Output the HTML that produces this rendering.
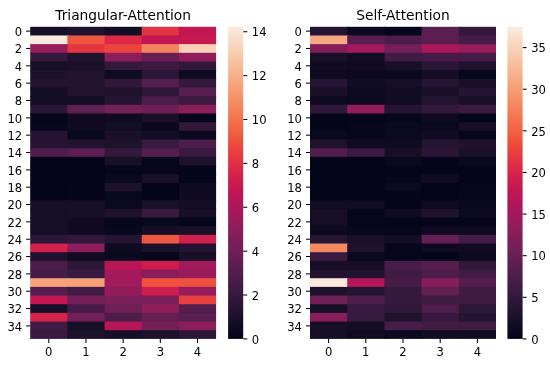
<!DOCTYPE html>
<html><head><meta charset="utf-8"><title>Attention heatmaps</title>
<style>html,body{margin:0;padding:0;background:#fff;}body{width:550px;height:366px;overflow:hidden;}svg{display:block;}</style>
</head><body>
<svg width="550" height="366" viewBox="0 0 550 366" font-family="'DejaVu Sans', 'Liberation Sans', sans-serif">
<defs><linearGradient id="rk" x1="0" y1="1" x2="0" y2="0">
<stop offset="0.0000" stop-color="#03051a"/>
<stop offset="0.0156" stop-color="#07071d"/>
<stop offset="0.0312" stop-color="#0d0a21"/>
<stop offset="0.0469" stop-color="#130d25"/>
<stop offset="0.0625" stop-color="#180f29"/>
<stop offset="0.0781" stop-color="#1e122d"/>
<stop offset="0.0938" stop-color="#241432"/>
<stop offset="0.1094" stop-color="#2a1636"/>
<stop offset="0.1250" stop-color="#30173a"/>
<stop offset="0.1406" stop-color="#35193e"/>
<stop offset="0.1562" stop-color="#3c1a42"/>
<stop offset="0.1719" stop-color="#421b45"/>
<stop offset="0.1875" stop-color="#481c48"/>
<stop offset="0.2031" stop-color="#4e1d4b"/>
<stop offset="0.2188" stop-color="#541e4e"/>
<stop offset="0.2344" stop-color="#5b1e51"/>
<stop offset="0.2500" stop-color="#611f53"/>
<stop offset="0.2656" stop-color="#681f55"/>
<stop offset="0.2812" stop-color="#6e1f57"/>
<stop offset="0.2969" stop-color="#751f58"/>
<stop offset="0.3125" stop-color="#7b1f59"/>
<stop offset="0.3281" stop-color="#821e5a"/>
<stop offset="0.3438" stop-color="#891e5b"/>
<stop offset="0.3594" stop-color="#901d5b"/>
<stop offset="0.3750" stop-color="#971c5b"/>
<stop offset="0.3906" stop-color="#9e1a5b"/>
<stop offset="0.4062" stop-color="#a4195b"/>
<stop offset="0.4219" stop-color="#ab185a"/>
<stop offset="0.4375" stop-color="#b21758"/>
<stop offset="0.4531" stop-color="#b91657"/>
<stop offset="0.4688" stop-color="#bf1654"/>
<stop offset="0.4844" stop-color="#c51852"/>
<stop offset="0.5000" stop-color="#cb1b4f"/>
<stop offset="0.5156" stop-color="#d11f4c"/>
<stop offset="0.5312" stop-color="#d62449"/>
<stop offset="0.5469" stop-color="#db2946"/>
<stop offset="0.5625" stop-color="#df2f44"/>
<stop offset="0.5781" stop-color="#e33641"/>
<stop offset="0.5938" stop-color="#e73d3f"/>
<stop offset="0.6094" stop-color="#ea443e"/>
<stop offset="0.6250" stop-color="#ec4c3e"/>
<stop offset="0.6406" stop-color="#ee543f"/>
<stop offset="0.6562" stop-color="#f05c42"/>
<stop offset="0.6719" stop-color="#f16445"/>
<stop offset="0.6875" stop-color="#f26b49"/>
<stop offset="0.7031" stop-color="#f3734e"/>
<stop offset="0.7188" stop-color="#f47a54"/>
<stop offset="0.7344" stop-color="#f4815a"/>
<stop offset="0.7500" stop-color="#f58860"/>
<stop offset="0.7656" stop-color="#f58f66"/>
<stop offset="0.7812" stop-color="#f5966c"/>
<stop offset="0.7969" stop-color="#f69c73"/>
<stop offset="0.8125" stop-color="#f6a37a"/>
<stop offset="0.8281" stop-color="#f6a981"/>
<stop offset="0.8438" stop-color="#f6b089"/>
<stop offset="0.8594" stop-color="#f6b691"/>
<stop offset="0.8750" stop-color="#f6bc99"/>
<stop offset="0.8906" stop-color="#f7c2a2"/>
<stop offset="0.9062" stop-color="#f7c9aa"/>
<stop offset="0.9219" stop-color="#f7cfb3"/>
<stop offset="0.9375" stop-color="#f8d4bc"/>
<stop offset="0.9531" stop-color="#f8dac5"/>
<stop offset="0.9688" stop-color="#f9e0cd"/>
<stop offset="0.9844" stop-color="#fae6d6"/>
<stop offset="1.0000" stop-color="#faebdd"/>
</linearGradient></defs>
<rect width="550" height="366" fill="#fff"/>
<g shape-rendering="auto">
<rect x="30.20" y="26.80" width="38.38" height="9.87" fill="#170f28"/>
<rect x="67.38" y="26.80" width="38.38" height="9.87" fill="#1e122d"/>
<rect x="104.56" y="26.80" width="38.38" height="9.87" fill="#130d25"/>
<rect x="141.74" y="26.80" width="38.38" height="9.87" fill="#e23442"/>
<rect x="178.92" y="26.80" width="37.18" height="9.87" fill="#c21753"/>
<rect x="30.20" y="35.47" width="38.38" height="9.87" fill="#faebdd"/>
<rect x="67.38" y="35.47" width="38.38" height="9.87" fill="#ef5640"/>
<rect x="104.56" y="35.47" width="38.38" height="9.87" fill="#db2946"/>
<rect x="141.74" y="35.47" width="38.38" height="9.87" fill="#c21753"/>
<rect x="178.92" y="35.47" width="37.18" height="9.87" fill="#c71951"/>
<rect x="30.20" y="44.14" width="38.38" height="9.87" fill="#981b5b"/>
<rect x="67.38" y="44.14" width="38.38" height="9.87" fill="#e33641"/>
<rect x="104.56" y="44.14" width="38.38" height="9.87" fill="#ea443e"/>
<rect x="141.74" y="44.14" width="38.38" height="9.87" fill="#f4845d"/>
<rect x="178.92" y="44.14" width="37.18" height="9.87" fill="#f8d1b8"/>
<rect x="30.20" y="52.81" width="38.38" height="9.87" fill="#34193d"/>
<rect x="67.38" y="52.81" width="38.38" height="9.87" fill="#1e122d"/>
<rect x="104.56" y="52.81" width="38.38" height="9.87" fill="#8b1d5b"/>
<rect x="141.74" y="52.81" width="38.38" height="9.87" fill="#691f55"/>
<rect x="178.92" y="52.81" width="37.18" height="9.87" fill="#901d5b"/>
<rect x="30.20" y="61.48" width="38.38" height="9.87" fill="#170f28"/>
<rect x="67.38" y="61.48" width="38.38" height="9.87" fill="#1a102a"/>
<rect x="104.56" y="61.48" width="38.38" height="9.87" fill="#34193d"/>
<rect x="141.74" y="61.48" width="38.38" height="9.87" fill="#3c1a42"/>
<rect x="178.92" y="61.48" width="37.18" height="9.87" fill="#31183b"/>
<rect x="30.20" y="70.15" width="38.38" height="9.87" fill="#1d112c"/>
<rect x="67.38" y="70.15" width="38.38" height="9.87" fill="#221331"/>
<rect x="104.56" y="70.15" width="38.38" height="9.87" fill="#100b23"/>
<rect x="141.74" y="70.15" width="38.38" height="9.87" fill="#2a1636"/>
<rect x="178.92" y="70.15" width="37.18" height="9.87" fill="#100b23"/>
<rect x="30.20" y="78.82" width="38.38" height="9.87" fill="#221331"/>
<rect x="67.38" y="78.82" width="38.38" height="9.87" fill="#221331"/>
<rect x="104.56" y="78.82" width="38.38" height="9.87" fill="#31183b"/>
<rect x="141.74" y="78.82" width="38.38" height="9.87" fill="#541e4e"/>
<rect x="178.92" y="78.82" width="37.18" height="9.87" fill="#34193d"/>
<rect x="30.20" y="87.49" width="38.38" height="9.87" fill="#130d25"/>
<rect x="67.38" y="87.49" width="38.38" height="9.87" fill="#221331"/>
<rect x="104.56" y="87.49" width="38.38" height="9.87" fill="#1e122d"/>
<rect x="141.74" y="87.49" width="38.38" height="9.87" fill="#2d1738"/>
<rect x="178.92" y="87.49" width="37.18" height="9.87" fill="#581e4f"/>
<rect x="30.20" y="96.16" width="38.38" height="9.87" fill="#130d25"/>
<rect x="67.38" y="96.16" width="38.38" height="9.87" fill="#130d25"/>
<rect x="104.56" y="96.16" width="38.38" height="9.87" fill="#251433"/>
<rect x="141.74" y="96.16" width="38.38" height="9.87" fill="#491d49"/>
<rect x="178.92" y="96.16" width="37.18" height="9.87" fill="#3c1a42"/>
<rect x="30.20" y="104.83" width="38.38" height="9.87" fill="#2a1636"/>
<rect x="67.38" y="104.83" width="38.38" height="9.87" fill="#5e1f52"/>
<rect x="104.56" y="104.83" width="38.38" height="9.87" fill="#751f58"/>
<rect x="141.74" y="104.83" width="38.38" height="9.87" fill="#6d1f56"/>
<rect x="178.92" y="104.83" width="37.18" height="9.87" fill="#891e5b"/>
<rect x="30.20" y="113.49" width="38.38" height="9.87" fill="#06071c"/>
<rect x="67.38" y="113.49" width="38.38" height="9.87" fill="#100b23"/>
<rect x="104.56" y="113.49" width="38.38" height="9.87" fill="#100b23"/>
<rect x="141.74" y="113.49" width="38.38" height="9.87" fill="#1a102a"/>
<rect x="178.92" y="113.49" width="37.18" height="9.87" fill="#05061b"/>
<rect x="30.20" y="122.16" width="38.38" height="9.87" fill="#08081e"/>
<rect x="67.38" y="122.16" width="38.38" height="9.87" fill="#100b23"/>
<rect x="104.56" y="122.16" width="38.38" height="9.87" fill="#130d25"/>
<rect x="141.74" y="122.16" width="38.38" height="9.87" fill="#0b0920"/>
<rect x="178.92" y="122.16" width="37.18" height="9.87" fill="#31183b"/>
<rect x="30.20" y="130.83" width="38.38" height="9.87" fill="#251433"/>
<rect x="67.38" y="130.83" width="38.38" height="9.87" fill="#08081e"/>
<rect x="104.56" y="130.83" width="38.38" height="9.87" fill="#1a102a"/>
<rect x="141.74" y="130.83" width="38.38" height="9.87" fill="#130d25"/>
<rect x="178.92" y="130.83" width="37.18" height="9.87" fill="#0b0920"/>
<rect x="30.20" y="139.50" width="38.38" height="9.87" fill="#251433"/>
<rect x="67.38" y="139.50" width="38.38" height="9.87" fill="#221331"/>
<rect x="104.56" y="139.50" width="38.38" height="9.87" fill="#1e122d"/>
<rect x="141.74" y="139.50" width="38.38" height="9.87" fill="#3a1a41"/>
<rect x="178.92" y="139.50" width="37.18" height="9.87" fill="#4c1d4b"/>
<rect x="30.20" y="148.17" width="38.38" height="9.87" fill="#4e1d4b"/>
<rect x="67.38" y="148.17" width="38.38" height="9.87" fill="#5c1e51"/>
<rect x="104.56" y="148.17" width="38.38" height="9.87" fill="#34193d"/>
<rect x="141.74" y="148.17" width="38.38" height="9.87" fill="#541e4e"/>
<rect x="178.92" y="148.17" width="37.18" height="9.87" fill="#3a1a41"/>
<rect x="30.20" y="156.84" width="38.38" height="9.87" fill="#04051a"/>
<rect x="67.38" y="156.84" width="38.38" height="9.87" fill="#04051a"/>
<rect x="104.56" y="156.84" width="38.38" height="9.87" fill="#180f29"/>
<rect x="141.74" y="156.84" width="38.38" height="9.87" fill="#06071c"/>
<rect x="178.92" y="156.84" width="37.18" height="9.87" fill="#1d112c"/>
<rect x="30.20" y="165.51" width="38.38" height="9.87" fill="#04051a"/>
<rect x="67.38" y="165.51" width="38.38" height="9.87" fill="#04051a"/>
<rect x="104.56" y="165.51" width="38.38" height="9.87" fill="#06071c"/>
<rect x="141.74" y="165.51" width="38.38" height="9.87" fill="#06071c"/>
<rect x="178.92" y="165.51" width="37.18" height="9.87" fill="#05061b"/>
<rect x="30.20" y="174.18" width="38.38" height="9.87" fill="#04051a"/>
<rect x="67.38" y="174.18" width="38.38" height="9.87" fill="#04051a"/>
<rect x="104.56" y="174.18" width="38.38" height="9.87" fill="#0a091f"/>
<rect x="141.74" y="174.18" width="38.38" height="9.87" fill="#1a102a"/>
<rect x="178.92" y="174.18" width="37.18" height="9.87" fill="#05061b"/>
<rect x="30.20" y="182.85" width="38.38" height="9.87" fill="#04051a"/>
<rect x="67.38" y="182.85" width="38.38" height="9.87" fill="#05061b"/>
<rect x="104.56" y="182.85" width="38.38" height="9.87" fill="#1d112c"/>
<rect x="141.74" y="182.85" width="38.38" height="9.87" fill="#04051a"/>
<rect x="178.92" y="182.85" width="37.18" height="9.87" fill="#0d0a21"/>
<rect x="30.20" y="191.52" width="38.38" height="9.87" fill="#04051a"/>
<rect x="67.38" y="191.52" width="38.38" height="9.87" fill="#05061b"/>
<rect x="104.56" y="191.52" width="38.38" height="9.87" fill="#08081e"/>
<rect x="141.74" y="191.52" width="38.38" height="9.87" fill="#05061b"/>
<rect x="178.92" y="191.52" width="37.18" height="9.87" fill="#100b23"/>
<rect x="30.20" y="200.19" width="38.38" height="9.87" fill="#170f28"/>
<rect x="67.38" y="200.19" width="38.38" height="9.87" fill="#170f28"/>
<rect x="104.56" y="200.19" width="38.38" height="9.87" fill="#0b0920"/>
<rect x="141.74" y="200.19" width="38.38" height="9.87" fill="#1a102a"/>
<rect x="178.92" y="200.19" width="37.18" height="9.87" fill="#130d25"/>
<rect x="30.20" y="208.86" width="38.38" height="9.87" fill="#160e27"/>
<rect x="67.38" y="208.86" width="38.38" height="9.87" fill="#170f28"/>
<rect x="104.56" y="208.86" width="38.38" height="9.87" fill="#20122e"/>
<rect x="141.74" y="208.86" width="38.38" height="9.87" fill="#381a40"/>
<rect x="178.92" y="208.86" width="37.18" height="9.87" fill="#170f28"/>
<rect x="30.20" y="217.53" width="38.38" height="9.87" fill="#160e27"/>
<rect x="67.38" y="217.53" width="38.38" height="9.87" fill="#110c24"/>
<rect x="104.56" y="217.53" width="38.38" height="9.87" fill="#06071c"/>
<rect x="141.74" y="217.53" width="38.38" height="9.87" fill="#08081e"/>
<rect x="178.92" y="217.53" width="37.18" height="9.87" fill="#06071c"/>
<rect x="30.20" y="226.20" width="38.38" height="9.87" fill="#160e27"/>
<rect x="67.38" y="226.20" width="38.38" height="9.87" fill="#100b23"/>
<rect x="104.56" y="226.20" width="38.38" height="9.87" fill="#08081e"/>
<rect x="141.74" y="226.20" width="38.38" height="9.87" fill="#170f28"/>
<rect x="178.92" y="226.20" width="37.18" height="9.87" fill="#180f29"/>
<rect x="30.20" y="234.87" width="38.38" height="9.87" fill="#2b1637"/>
<rect x="67.38" y="234.87" width="38.38" height="9.87" fill="#31183b"/>
<rect x="104.56" y="234.87" width="38.38" height="9.87" fill="#251433"/>
<rect x="141.74" y="234.87" width="38.38" height="9.87" fill="#ef5840"/>
<rect x="178.92" y="234.87" width="37.18" height="9.87" fill="#d2204c"/>
<rect x="30.20" y="243.54" width="38.38" height="9.87" fill="#d2204c"/>
<rect x="67.38" y="243.54" width="38.38" height="9.87" fill="#8c1d5b"/>
<rect x="104.56" y="243.54" width="38.38" height="9.87" fill="#0d0a21"/>
<rect x="141.74" y="243.54" width="38.38" height="9.87" fill="#1a102a"/>
<rect x="178.92" y="243.54" width="37.18" height="9.87" fill="#221331"/>
<rect x="30.20" y="252.21" width="38.38" height="9.87" fill="#20122e"/>
<rect x="67.38" y="252.21" width="38.38" height="9.87" fill="#110c24"/>
<rect x="104.56" y="252.21" width="38.38" height="9.87" fill="#0b0920"/>
<rect x="141.74" y="252.21" width="38.38" height="9.87" fill="#06071c"/>
<rect x="178.92" y="252.21" width="37.18" height="9.87" fill="#180f29"/>
<rect x="30.20" y="260.88" width="38.38" height="9.87" fill="#4c1d4b"/>
<rect x="67.38" y="260.88" width="38.38" height="9.87" fill="#2d1738"/>
<rect x="104.56" y="260.88" width="38.38" height="9.87" fill="#ba1656"/>
<rect x="141.74" y="260.88" width="38.38" height="9.87" fill="#cd1c4e"/>
<rect x="178.92" y="260.88" width="37.18" height="9.87" fill="#a11a5b"/>
<rect x="30.20" y="269.54" width="38.38" height="9.87" fill="#451c47"/>
<rect x="67.38" y="269.54" width="38.38" height="9.87" fill="#381a40"/>
<rect x="104.56" y="269.54" width="38.38" height="9.87" fill="#a4195b"/>
<rect x="141.74" y="269.54" width="38.38" height="9.87" fill="#8b1d5b"/>
<rect x="178.92" y="269.54" width="37.18" height="9.87" fill="#9a1b5b"/>
<rect x="30.20" y="278.21" width="38.38" height="9.87" fill="#f6a37a"/>
<rect x="67.38" y="278.21" width="38.38" height="9.87" fill="#f6a178"/>
<rect x="104.56" y="278.21" width="38.38" height="9.87" fill="#a11a5b"/>
<rect x="141.74" y="278.21" width="38.38" height="9.87" fill="#ee523f"/>
<rect x="178.92" y="278.21" width="37.18" height="9.87" fill="#ee523f"/>
<rect x="30.20" y="286.88" width="38.38" height="9.87" fill="#531e4d"/>
<rect x="67.38" y="286.88" width="38.38" height="9.87" fill="#421b45"/>
<rect x="104.56" y="286.88" width="38.38" height="9.87" fill="#921c5b"/>
<rect x="141.74" y="286.88" width="38.38" height="9.87" fill="#ce1d4e"/>
<rect x="178.92" y="286.88" width="37.18" height="9.87" fill="#971c5b"/>
<rect x="30.20" y="295.55" width="38.38" height="9.87" fill="#c21753"/>
<rect x="67.38" y="295.55" width="38.38" height="9.87" fill="#751f58"/>
<rect x="104.56" y="295.55" width="38.38" height="9.87" fill="#7a1f59"/>
<rect x="141.74" y="295.55" width="38.38" height="9.87" fill="#7a1f59"/>
<rect x="178.92" y="295.55" width="37.18" height="9.87" fill="#e83f3f"/>
<rect x="30.20" y="304.22" width="38.38" height="9.87" fill="#180f29"/>
<rect x="67.38" y="304.22" width="38.38" height="9.87" fill="#481c48"/>
<rect x="104.56" y="304.22" width="38.38" height="9.87" fill="#6d1f56"/>
<rect x="141.74" y="304.22" width="38.38" height="9.87" fill="#901d5b"/>
<rect x="178.92" y="304.22" width="37.18" height="9.87" fill="#531e4d"/>
<rect x="30.20" y="312.89" width="38.38" height="9.87" fill="#d62449"/>
<rect x="67.38" y="312.89" width="38.38" height="9.87" fill="#731f58"/>
<rect x="104.56" y="312.89" width="38.38" height="9.87" fill="#4c1d4b"/>
<rect x="141.74" y="312.89" width="38.38" height="9.87" fill="#661f54"/>
<rect x="178.92" y="312.89" width="37.18" height="9.87" fill="#581e4f"/>
<rect x="30.20" y="321.56" width="38.38" height="9.87" fill="#3f1b43"/>
<rect x="67.38" y="321.56" width="38.38" height="9.87" fill="#180f29"/>
<rect x="104.56" y="321.56" width="38.38" height="9.87" fill="#b71657"/>
<rect x="141.74" y="321.56" width="38.38" height="9.87" fill="#731f58"/>
<rect x="178.92" y="321.56" width="37.18" height="9.87" fill="#8c1d5b"/>
<rect x="30.20" y="330.23" width="38.38" height="8.67" fill="#381a40"/>
<rect x="67.38" y="330.23" width="38.38" height="8.67" fill="#1d112c"/>
<rect x="104.56" y="330.23" width="38.38" height="8.67" fill="#170f28"/>
<rect x="141.74" y="330.23" width="38.38" height="8.67" fill="#1d112c"/>
<rect x="178.92" y="330.23" width="37.18" height="8.67" fill="#2b1637"/>
</g>
<g stroke="#000" stroke-width="1.05">
<line x1="26.15" y1="31.13" x2="30.20" y2="31.13"/>
<line x1="26.15" y1="48.47" x2="30.20" y2="48.47"/>
<line x1="26.15" y1="65.81" x2="30.20" y2="65.81"/>
<line x1="26.15" y1="83.15" x2="30.20" y2="83.15"/>
<line x1="26.15" y1="100.49" x2="30.20" y2="100.49"/>
<line x1="26.15" y1="117.83" x2="30.20" y2="117.83"/>
<line x1="26.15" y1="135.17" x2="30.20" y2="135.17"/>
<line x1="26.15" y1="152.51" x2="30.20" y2="152.51"/>
<line x1="26.15" y1="169.85" x2="30.20" y2="169.85"/>
<line x1="26.15" y1="187.18" x2="30.20" y2="187.18"/>
<line x1="26.15" y1="204.52" x2="30.20" y2="204.52"/>
<line x1="26.15" y1="221.86" x2="30.20" y2="221.86"/>
<line x1="26.15" y1="239.20" x2="30.20" y2="239.20"/>
<line x1="26.15" y1="256.54" x2="30.20" y2="256.54"/>
<line x1="26.15" y1="273.88" x2="30.20" y2="273.88"/>
<line x1="26.15" y1="291.22" x2="30.20" y2="291.22"/>
<line x1="26.15" y1="308.56" x2="30.20" y2="308.56"/>
<line x1="26.15" y1="325.90" x2="30.20" y2="325.90"/>
<line x1="48.79" y1="338.90" x2="48.79" y2="342.95"/>
<line x1="85.97" y1="338.90" x2="85.97" y2="342.95"/>
<line x1="123.15" y1="338.90" x2="123.15" y2="342.95"/>
<line x1="160.33" y1="338.90" x2="160.33" y2="342.95"/>
<line x1="197.51" y1="338.90" x2="197.51" y2="342.95"/>
<line x1="243.20" y1="338.90" x2="247.25" y2="338.90"/>
<line x1="243.20" y1="295.02" x2="247.25" y2="295.02"/>
<line x1="243.20" y1="251.14" x2="247.25" y2="251.14"/>
<line x1="243.20" y1="207.26" x2="247.25" y2="207.26"/>
<line x1="243.20" y1="163.38" x2="247.25" y2="163.38"/>
<line x1="243.20" y1="119.50" x2="247.25" y2="119.50"/>
<line x1="243.20" y1="75.62" x2="247.25" y2="75.62"/>
<line x1="243.20" y1="31.74" x2="247.25" y2="31.74"/>
</g>
<g font-size="11.57" fill="#000">
<text x="22.10" y="35.93" text-anchor="end">0</text>
<text x="22.10" y="53.27" text-anchor="end">2</text>
<text x="22.10" y="70.61" text-anchor="end">4</text>
<text x="22.10" y="87.95" text-anchor="end">6</text>
<text x="22.10" y="105.29" text-anchor="end">8</text>
<text x="22.10" y="122.63" text-anchor="end">10</text>
<text x="22.10" y="139.97" text-anchor="end">12</text>
<text x="22.10" y="157.31" text-anchor="end">14</text>
<text x="22.10" y="174.65" text-anchor="end">16</text>
<text x="22.10" y="191.98" text-anchor="end">18</text>
<text x="22.10" y="209.32" text-anchor="end">20</text>
<text x="22.10" y="226.66" text-anchor="end">22</text>
<text x="22.10" y="244.00" text-anchor="end">24</text>
<text x="22.10" y="261.34" text-anchor="end">26</text>
<text x="22.10" y="278.68" text-anchor="end">28</text>
<text x="22.10" y="296.02" text-anchor="end">30</text>
<text x="22.10" y="313.36" text-anchor="end">32</text>
<text x="22.10" y="330.70" text-anchor="end">34</text>
<text x="48.79" y="356.20" text-anchor="middle">0</text>
<text x="85.97" y="356.20" text-anchor="middle">1</text>
<text x="123.15" y="356.20" text-anchor="middle">2</text>
<text x="160.33" y="356.20" text-anchor="middle">3</text>
<text x="197.51" y="356.20" text-anchor="middle">4</text>
<text x="251.80" y="343.60">0</text>
<text x="251.80" y="299.72">2</text>
<text x="251.80" y="255.84">4</text>
<text x="251.80" y="211.96">6</text>
<text x="251.80" y="168.08">8</text>
<text x="251.80" y="124.20">10</text>
<text x="251.80" y="80.32">12</text>
<text x="251.80" y="36.44">14</text>
</g>
<text x="123.15" y="20.0" font-size="13.78" text-anchor="middle" fill="#000">Triangular-Attention</text>
<rect x="228.10" y="26.80" width="15.10" height="312.10" fill="url(#rk)"/>
<g shape-rendering="auto">
<rect x="310.00" y="26.80" width="38.40" height="9.87" fill="#251433"/>
<rect x="347.20" y="26.80" width="38.40" height="9.87" fill="#0a091f"/>
<rect x="384.40" y="26.80" width="38.40" height="9.87" fill="#06071c"/>
<rect x="421.60" y="26.80" width="38.40" height="9.87" fill="#5b1e51"/>
<rect x="458.80" y="26.80" width="37.20" height="9.87" fill="#34193d"/>
<rect x="310.00" y="35.47" width="38.40" height="9.87" fill="#f6a880"/>
<rect x="347.20" y="35.47" width="38.40" height="9.87" fill="#5b1e51"/>
<rect x="384.40" y="35.47" width="38.40" height="9.87" fill="#4c1d4b"/>
<rect x="421.60" y="35.47" width="38.40" height="9.87" fill="#5c1e51"/>
<rect x="458.80" y="35.47" width="37.20" height="9.87" fill="#451c47"/>
<rect x="310.00" y="44.14" width="38.40" height="9.87" fill="#841e5a"/>
<rect x="347.20" y="44.14" width="38.40" height="9.87" fill="#a3195b"/>
<rect x="384.40" y="44.14" width="38.40" height="9.87" fill="#731f58"/>
<rect x="421.60" y="44.14" width="38.40" height="9.87" fill="#aa185a"/>
<rect x="458.80" y="44.14" width="37.20" height="9.87" fill="#971c5b"/>
<rect x="310.00" y="52.81" width="38.40" height="9.87" fill="#180f29"/>
<rect x="347.20" y="52.81" width="38.40" height="9.87" fill="#110c24"/>
<rect x="384.40" y="52.81" width="38.40" height="9.87" fill="#401b44"/>
<rect x="421.60" y="52.81" width="38.40" height="9.87" fill="#451c47"/>
<rect x="458.80" y="52.81" width="37.20" height="9.87" fill="#451c47"/>
<rect x="310.00" y="61.48" width="38.40" height="9.87" fill="#110c24"/>
<rect x="347.20" y="61.48" width="38.40" height="9.87" fill="#100b23"/>
<rect x="384.40" y="61.48" width="38.40" height="9.87" fill="#180f29"/>
<rect x="421.60" y="61.48" width="38.40" height="9.87" fill="#2a1636"/>
<rect x="458.80" y="61.48" width="37.20" height="9.87" fill="#20122e"/>
<rect x="310.00" y="70.15" width="38.40" height="9.87" fill="#0d0a21"/>
<rect x="347.20" y="70.15" width="38.40" height="9.87" fill="#0b0920"/>
<rect x="384.40" y="70.15" width="38.40" height="9.87" fill="#0a091f"/>
<rect x="421.60" y="70.15" width="38.40" height="9.87" fill="#160e27"/>
<rect x="458.80" y="70.15" width="37.20" height="9.87" fill="#06071c"/>
<rect x="310.00" y="78.82" width="38.40" height="9.87" fill="#251433"/>
<rect x="347.20" y="78.82" width="38.40" height="9.87" fill="#110c24"/>
<rect x="384.40" y="78.82" width="38.40" height="9.87" fill="#160e27"/>
<rect x="421.60" y="78.82" width="38.40" height="9.87" fill="#251433"/>
<rect x="458.80" y="78.82" width="37.20" height="9.87" fill="#1a102a"/>
<rect x="310.00" y="87.49" width="38.40" height="9.87" fill="#1a102a"/>
<rect x="347.20" y="87.49" width="38.40" height="9.87" fill="#0d0a21"/>
<rect x="384.40" y="87.49" width="38.40" height="9.87" fill="#110c24"/>
<rect x="421.60" y="87.49" width="38.40" height="9.87" fill="#1a102a"/>
<rect x="458.80" y="87.49" width="37.20" height="9.87" fill="#251433"/>
<rect x="310.00" y="96.16" width="38.40" height="9.87" fill="#0d0a21"/>
<rect x="347.20" y="96.16" width="38.40" height="9.87" fill="#0a091f"/>
<rect x="384.40" y="96.16" width="38.40" height="9.87" fill="#110c24"/>
<rect x="421.60" y="96.16" width="38.40" height="9.87" fill="#241432"/>
<rect x="458.80" y="96.16" width="37.20" height="9.87" fill="#1a102a"/>
<rect x="310.00" y="104.83" width="38.40" height="9.87" fill="#30173a"/>
<rect x="347.20" y="104.83" width="38.40" height="9.87" fill="#931c5b"/>
<rect x="384.40" y="104.83" width="38.40" height="9.87" fill="#251433"/>
<rect x="421.60" y="104.83" width="38.40" height="9.87" fill="#33183c"/>
<rect x="458.80" y="104.83" width="37.20" height="9.87" fill="#3a1a41"/>
<rect x="310.00" y="113.49" width="38.40" height="9.87" fill="#05061b"/>
<rect x="347.20" y="113.49" width="38.40" height="9.87" fill="#05061b"/>
<rect x="384.40" y="113.49" width="38.40" height="9.87" fill="#06071c"/>
<rect x="421.60" y="113.49" width="38.40" height="9.87" fill="#0d0a21"/>
<rect x="458.80" y="113.49" width="37.20" height="9.87" fill="#05061b"/>
<rect x="310.00" y="122.16" width="38.40" height="9.87" fill="#05061b"/>
<rect x="347.20" y="122.16" width="38.40" height="9.87" fill="#06071c"/>
<rect x="384.40" y="122.16" width="38.40" height="9.87" fill="#0a091f"/>
<rect x="421.60" y="122.16" width="38.40" height="9.87" fill="#0a091f"/>
<rect x="458.80" y="122.16" width="37.20" height="9.87" fill="#180f29"/>
<rect x="310.00" y="130.83" width="38.40" height="9.87" fill="#08081e"/>
<rect x="347.20" y="130.83" width="38.40" height="9.87" fill="#06071c"/>
<rect x="384.40" y="130.83" width="38.40" height="9.87" fill="#0a091f"/>
<rect x="421.60" y="130.83" width="38.40" height="9.87" fill="#110c24"/>
<rect x="458.80" y="130.83" width="37.20" height="9.87" fill="#06071c"/>
<rect x="310.00" y="139.50" width="38.40" height="9.87" fill="#20122e"/>
<rect x="347.20" y="139.50" width="38.40" height="9.87" fill="#100b23"/>
<rect x="384.40" y="139.50" width="38.40" height="9.87" fill="#100b23"/>
<rect x="421.60" y="139.50" width="38.40" height="9.87" fill="#251433"/>
<rect x="458.80" y="139.50" width="37.20" height="9.87" fill="#20122e"/>
<rect x="310.00" y="148.17" width="38.40" height="9.87" fill="#501d4c"/>
<rect x="347.20" y="148.17" width="38.40" height="9.87" fill="#3c1a42"/>
<rect x="384.40" y="148.17" width="38.40" height="9.87" fill="#170f28"/>
<rect x="421.60" y="148.17" width="38.40" height="9.87" fill="#2b1637"/>
<rect x="458.80" y="148.17" width="37.20" height="9.87" fill="#1a102a"/>
<rect x="310.00" y="156.84" width="38.40" height="9.87" fill="#04051a"/>
<rect x="347.20" y="156.84" width="38.40" height="9.87" fill="#04051a"/>
<rect x="384.40" y="156.84" width="38.40" height="9.87" fill="#0a091f"/>
<rect x="421.60" y="156.84" width="38.40" height="9.87" fill="#05061b"/>
<rect x="458.80" y="156.84" width="37.20" height="9.87" fill="#0b0920"/>
<rect x="310.00" y="165.51" width="38.40" height="9.87" fill="#04051a"/>
<rect x="347.20" y="165.51" width="38.40" height="9.87" fill="#04051a"/>
<rect x="384.40" y="165.51" width="38.40" height="9.87" fill="#05061b"/>
<rect x="421.60" y="165.51" width="38.40" height="9.87" fill="#05061b"/>
<rect x="458.80" y="165.51" width="37.20" height="9.87" fill="#05061b"/>
<rect x="310.00" y="174.18" width="38.40" height="9.87" fill="#04051a"/>
<rect x="347.20" y="174.18" width="38.40" height="9.87" fill="#04051a"/>
<rect x="384.40" y="174.18" width="38.40" height="9.87" fill="#06071c"/>
<rect x="421.60" y="174.18" width="38.40" height="9.87" fill="#100b23"/>
<rect x="458.80" y="174.18" width="37.20" height="9.87" fill="#04051a"/>
<rect x="310.00" y="182.85" width="38.40" height="9.87" fill="#04051a"/>
<rect x="347.20" y="182.85" width="38.40" height="9.87" fill="#04051a"/>
<rect x="384.40" y="182.85" width="38.40" height="9.87" fill="#0b0920"/>
<rect x="421.60" y="182.85" width="38.40" height="9.87" fill="#04051a"/>
<rect x="458.80" y="182.85" width="37.20" height="9.87" fill="#06071c"/>
<rect x="310.00" y="191.52" width="38.40" height="9.87" fill="#04051a"/>
<rect x="347.20" y="191.52" width="38.40" height="9.87" fill="#04051a"/>
<rect x="384.40" y="191.52" width="38.40" height="9.87" fill="#05061b"/>
<rect x="421.60" y="191.52" width="38.40" height="9.87" fill="#04051a"/>
<rect x="458.80" y="191.52" width="37.20" height="9.87" fill="#06071c"/>
<rect x="310.00" y="200.19" width="38.40" height="9.87" fill="#110c24"/>
<rect x="347.20" y="200.19" width="38.40" height="9.87" fill="#110c24"/>
<rect x="384.40" y="200.19" width="38.40" height="9.87" fill="#05061b"/>
<rect x="421.60" y="200.19" width="38.40" height="9.87" fill="#0d0a21"/>
<rect x="458.80" y="200.19" width="37.20" height="9.87" fill="#08081e"/>
<rect x="310.00" y="208.86" width="38.40" height="9.87" fill="#160e27"/>
<rect x="347.20" y="208.86" width="38.40" height="9.87" fill="#06071c"/>
<rect x="384.40" y="208.86" width="38.40" height="9.87" fill="#110c24"/>
<rect x="421.60" y="208.86" width="38.40" height="9.87" fill="#1e122d"/>
<rect x="458.80" y="208.86" width="37.20" height="9.87" fill="#0a091f"/>
<rect x="310.00" y="217.53" width="38.40" height="9.87" fill="#160e27"/>
<rect x="347.20" y="217.53" width="38.40" height="9.87" fill="#06071c"/>
<rect x="384.40" y="217.53" width="38.40" height="9.87" fill="#05061b"/>
<rect x="421.60" y="217.53" width="38.40" height="9.87" fill="#05061b"/>
<rect x="458.80" y="217.53" width="37.20" height="9.87" fill="#05061b"/>
<rect x="310.00" y="226.20" width="38.40" height="9.87" fill="#0d0a21"/>
<rect x="347.20" y="226.20" width="38.40" height="9.87" fill="#08081e"/>
<rect x="384.40" y="226.20" width="38.40" height="9.87" fill="#06071c"/>
<rect x="421.60" y="226.20" width="38.40" height="9.87" fill="#100b23"/>
<rect x="458.80" y="226.20" width="37.20" height="9.87" fill="#0d0a21"/>
<rect x="310.00" y="234.87" width="38.40" height="9.87" fill="#271534"/>
<rect x="347.20" y="234.87" width="38.40" height="9.87" fill="#1a102a"/>
<rect x="384.40" y="234.87" width="38.40" height="9.87" fill="#130d25"/>
<rect x="421.60" y="234.87" width="38.40" height="9.87" fill="#641f54"/>
<rect x="458.80" y="234.87" width="37.20" height="9.87" fill="#451c47"/>
<rect x="310.00" y="243.54" width="38.40" height="9.87" fill="#f58a61"/>
<rect x="347.20" y="243.54" width="38.40" height="9.87" fill="#20122e"/>
<rect x="384.40" y="243.54" width="38.40" height="9.87" fill="#06071c"/>
<rect x="421.60" y="243.54" width="38.40" height="9.87" fill="#0d0a21"/>
<rect x="458.80" y="243.54" width="37.20" height="9.87" fill="#100b23"/>
<rect x="310.00" y="252.21" width="38.40" height="9.87" fill="#3a1a41"/>
<rect x="347.20" y="252.21" width="38.40" height="9.87" fill="#0a091f"/>
<rect x="384.40" y="252.21" width="38.40" height="9.87" fill="#06071c"/>
<rect x="421.60" y="252.21" width="38.40" height="9.87" fill="#05061b"/>
<rect x="458.80" y="252.21" width="37.20" height="9.87" fill="#0d0a21"/>
<rect x="310.00" y="260.88" width="38.40" height="9.87" fill="#160e27"/>
<rect x="347.20" y="260.88" width="38.40" height="9.87" fill="#160e27"/>
<rect x="384.40" y="260.88" width="38.40" height="9.87" fill="#481c48"/>
<rect x="421.60" y="260.88" width="38.40" height="9.87" fill="#561e4f"/>
<rect x="458.80" y="260.88" width="37.20" height="9.87" fill="#31183b"/>
<rect x="310.00" y="269.54" width="38.40" height="9.87" fill="#221331"/>
<rect x="347.20" y="269.54" width="38.40" height="9.87" fill="#221331"/>
<rect x="384.40" y="269.54" width="38.40" height="9.87" fill="#401b44"/>
<rect x="421.60" y="269.54" width="38.40" height="9.87" fill="#4e1d4b"/>
<rect x="458.80" y="269.54" width="37.20" height="9.87" fill="#421b45"/>
<rect x="310.00" y="278.21" width="38.40" height="9.87" fill="#faebdd"/>
<rect x="347.20" y="278.21" width="38.40" height="9.87" fill="#b41658"/>
<rect x="384.40" y="278.21" width="38.40" height="9.87" fill="#451c47"/>
<rect x="421.60" y="278.21" width="38.40" height="9.87" fill="#871e5b"/>
<rect x="458.80" y="278.21" width="37.20" height="9.87" fill="#561e4f"/>
<rect x="310.00" y="286.88" width="38.40" height="9.87" fill="#1e122d"/>
<rect x="347.20" y="286.88" width="38.40" height="9.87" fill="#251433"/>
<rect x="384.40" y="286.88" width="38.40" height="9.87" fill="#37193f"/>
<rect x="421.60" y="286.88" width="38.40" height="9.87" fill="#611f53"/>
<rect x="458.80" y="286.88" width="37.20" height="9.87" fill="#3f1b43"/>
<rect x="310.00" y="295.55" width="38.40" height="9.87" fill="#6d1f56"/>
<rect x="347.20" y="295.55" width="38.40" height="9.87" fill="#4e1d4b"/>
<rect x="384.40" y="295.55" width="38.40" height="9.87" fill="#37193f"/>
<rect x="421.60" y="295.55" width="38.40" height="9.87" fill="#401b44"/>
<rect x="458.80" y="295.55" width="37.20" height="9.87" fill="#3f1b43"/>
<rect x="310.00" y="304.22" width="38.40" height="9.87" fill="#170f28"/>
<rect x="347.20" y="304.22" width="38.40" height="9.87" fill="#381a40"/>
<rect x="384.40" y="304.22" width="38.40" height="9.87" fill="#31183b"/>
<rect x="421.60" y="304.22" width="38.40" height="9.87" fill="#4e1d4b"/>
<rect x="458.80" y="304.22" width="37.20" height="9.87" fill="#2d1738"/>
<rect x="310.00" y="312.89" width="38.40" height="9.87" fill="#871e5b"/>
<rect x="347.20" y="312.89" width="38.40" height="9.87" fill="#381a40"/>
<rect x="384.40" y="312.89" width="38.40" height="9.87" fill="#1e122d"/>
<rect x="421.60" y="312.89" width="38.40" height="9.87" fill="#37193f"/>
<rect x="458.80" y="312.89" width="37.20" height="9.87" fill="#251433"/>
<rect x="310.00" y="321.56" width="38.40" height="9.87" fill="#170f28"/>
<rect x="347.20" y="321.56" width="38.40" height="9.87" fill="#130d25"/>
<rect x="384.40" y="321.56" width="38.40" height="9.87" fill="#481c48"/>
<rect x="421.60" y="321.56" width="38.40" height="9.87" fill="#421b45"/>
<rect x="458.80" y="321.56" width="37.20" height="9.87" fill="#401b44"/>
<rect x="310.00" y="330.23" width="38.40" height="8.67" fill="#170f28"/>
<rect x="347.20" y="330.23" width="38.40" height="8.67" fill="#100b23"/>
<rect x="384.40" y="330.23" width="38.40" height="8.67" fill="#0a091f"/>
<rect x="421.60" y="330.23" width="38.40" height="8.67" fill="#110c24"/>
<rect x="458.80" y="330.23" width="37.20" height="8.67" fill="#110c24"/>
</g>
<g stroke="#000" stroke-width="1.05">
<line x1="305.95" y1="31.13" x2="310.00" y2="31.13"/>
<line x1="305.95" y1="48.47" x2="310.00" y2="48.47"/>
<line x1="305.95" y1="65.81" x2="310.00" y2="65.81"/>
<line x1="305.95" y1="83.15" x2="310.00" y2="83.15"/>
<line x1="305.95" y1="100.49" x2="310.00" y2="100.49"/>
<line x1="305.95" y1="117.83" x2="310.00" y2="117.83"/>
<line x1="305.95" y1="135.17" x2="310.00" y2="135.17"/>
<line x1="305.95" y1="152.51" x2="310.00" y2="152.51"/>
<line x1="305.95" y1="169.85" x2="310.00" y2="169.85"/>
<line x1="305.95" y1="187.18" x2="310.00" y2="187.18"/>
<line x1="305.95" y1="204.52" x2="310.00" y2="204.52"/>
<line x1="305.95" y1="221.86" x2="310.00" y2="221.86"/>
<line x1="305.95" y1="239.20" x2="310.00" y2="239.20"/>
<line x1="305.95" y1="256.54" x2="310.00" y2="256.54"/>
<line x1="305.95" y1="273.88" x2="310.00" y2="273.88"/>
<line x1="305.95" y1="291.22" x2="310.00" y2="291.22"/>
<line x1="305.95" y1="308.56" x2="310.00" y2="308.56"/>
<line x1="305.95" y1="325.90" x2="310.00" y2="325.90"/>
<line x1="328.60" y1="338.90" x2="328.60" y2="342.95"/>
<line x1="365.80" y1="338.90" x2="365.80" y2="342.95"/>
<line x1="403.00" y1="338.90" x2="403.00" y2="342.95"/>
<line x1="440.20" y1="338.90" x2="440.20" y2="342.95"/>
<line x1="477.40" y1="338.90" x2="477.40" y2="342.95"/>
<line x1="522.60" y1="338.90" x2="526.65" y2="338.90"/>
<line x1="522.60" y1="297.29" x2="526.65" y2="297.29"/>
<line x1="522.60" y1="255.67" x2="526.65" y2="255.67"/>
<line x1="522.60" y1="214.06" x2="526.65" y2="214.06"/>
<line x1="522.60" y1="172.45" x2="526.65" y2="172.45"/>
<line x1="522.60" y1="130.83" x2="526.65" y2="130.83"/>
<line x1="522.60" y1="89.22" x2="526.65" y2="89.22"/>
<line x1="522.60" y1="47.61" x2="526.65" y2="47.61"/>
</g>
<g font-size="11.57" fill="#000">
<text x="301.90" y="35.93" text-anchor="end">0</text>
<text x="301.90" y="53.27" text-anchor="end">2</text>
<text x="301.90" y="70.61" text-anchor="end">4</text>
<text x="301.90" y="87.95" text-anchor="end">6</text>
<text x="301.90" y="105.29" text-anchor="end">8</text>
<text x="301.90" y="122.63" text-anchor="end">10</text>
<text x="301.90" y="139.97" text-anchor="end">12</text>
<text x="301.90" y="157.31" text-anchor="end">14</text>
<text x="301.90" y="174.65" text-anchor="end">16</text>
<text x="301.90" y="191.98" text-anchor="end">18</text>
<text x="301.90" y="209.32" text-anchor="end">20</text>
<text x="301.90" y="226.66" text-anchor="end">22</text>
<text x="301.90" y="244.00" text-anchor="end">24</text>
<text x="301.90" y="261.34" text-anchor="end">26</text>
<text x="301.90" y="278.68" text-anchor="end">28</text>
<text x="301.90" y="296.02" text-anchor="end">30</text>
<text x="301.90" y="313.36" text-anchor="end">32</text>
<text x="301.90" y="330.70" text-anchor="end">34</text>
<text x="328.60" y="356.20" text-anchor="middle">0</text>
<text x="365.80" y="356.20" text-anchor="middle">1</text>
<text x="403.00" y="356.20" text-anchor="middle">2</text>
<text x="440.20" y="356.20" text-anchor="middle">3</text>
<text x="477.40" y="356.20" text-anchor="middle">4</text>
<text x="531.20" y="343.60">0</text>
<text x="531.20" y="301.99">5</text>
<text x="531.20" y="260.37">10</text>
<text x="531.20" y="218.76">15</text>
<text x="531.20" y="177.15">20</text>
<text x="531.20" y="135.53">25</text>
<text x="531.20" y="93.92">30</text>
<text x="531.20" y="52.31">35</text>
</g>
<text x="403.00" y="20.0" font-size="13.78" text-anchor="middle" fill="#000">Self-Attention</text>
<rect x="507.40" y="26.80" width="15.20" height="312.10" fill="url(#rk)"/>
</svg>
</body></html>
